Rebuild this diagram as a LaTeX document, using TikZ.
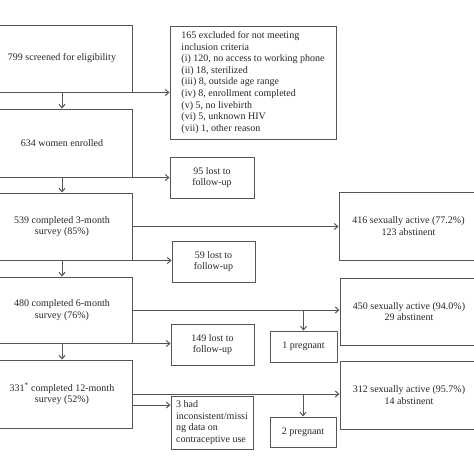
\documentclass[tikz,border=0pt]{standalone}
\usepackage{fontspec}
\setmainfont{Liberation Serif}
\usetikzlibrary{arrows.meta}
\definecolor{linegray}{HTML}{555555}
\definecolor{textgray}{HTML}{262626}

\begin{document}
\begin{tikzpicture}[x=1pt, y=-1pt, >={Straight Barb[length=3.5pt,width=6pt]}]
        \tikzstyle{every node}=[font=\fontsize{10}{11.6}\selectfont, text=textgray]
        \tikzstyle{box}=[draw=linegray, line width=1pt, inner sep=0pt, align=center]
        \tikzstyle{flow}=[draw=linegray, line width=1pt]
        \useasboundingbox (0, 0) rectangle (474, 474);

        \node[box, minimum width=140, minimum height=67] (scrn) at (62, 58.5) {799 screened for eligibility};
        \node[box, minimum width=140, minimum height=68] (enrl) at (62, 143) {634 women enrolled};
        \node[box, minimum width=140, minimum height=67] (mthree) at (62, 226.5) {539 completed 3-month\\survey (85\%)};
        \node[box, minimum width=140, minimum height=66] (msix) at (62, 310) {480 completed 6-month\\survey (76\%)};
        \node[box, minimum width=140, minimum height=68] (mtwelve) at (62, 394) {331\textsuperscript{*} completed 12-month\\survey (52\%)};

        \node[box, minimum width=166, minimum height=113, align=left] (excl) at (253, 82.5)
            {165 excluded for not meeting\\inclusion criteria\\(i) 120, no access to working phone\\(ii) 18, sterilized\\(iii) 8, outside age range\\(iv) 8, enrollment completed\\(v) 5, no livebirth\\(vi) 5, unknown HIV\\(vii) 1, other reason};
        \node[box, minimum width=84, minimum height=41] (lostzero) at (212, 177.5) {95 lost to\\follow-up};
        \node[box, minimum width=83, minimum height=41] (lostthree) at (213.5, 261.5) {59 lost to\\follow-up};
        \node[box, minimum width=83, minimum height=41] (lostsix) at (212.5, 344.5) {149 lost to\\follow-up};
        \node[box, minimum width=82, minimum height=53, align=left] (miss) at (212, 422.5)
            {3 had\\inconsistent/missi\\ng data on\\contraceptive use};

        \node[box, minimum width=139, minimum height=68] (actthree) at (408.5, 226) {416 sexually active (77.2\%)\\123 abstinent};
        \node[box, minimum width=138, minimum height=67] (actsix) at (409, 311.5) {450 sexually active (94.0\%)\\29 abstinent};
        \node[box, minimum width=138, minimum height=68] (acttwelve) at (409, 395) {312 sexually active (95.7\%)\\14 abstinent};
        \node[box, minimum width=67, minimum height=31] (pregsix) at (303.5, 346.5) {1 pregnant};
        \node[box, minimum width=66, minimum height=30] (pregtwelve) at (303, 432) {2 pregnant};

        \draw[flow, ->] (scrn.south) -- (enrl.north);
        \draw[flow, ->] (enrl.south) -- (mthree.north);
        \draw[flow, ->] (mthree.south) -- (msix.north);
        \draw[flow, ->] (msix.south) -- (mtwelve.north);

        \draw[flow, ->] (scrn.south west) -- (scrn.south west -| excl.west);
        \draw[flow, ->] (enrl.south west) -- (enrl.south west -| lostzero.west);
        \draw[flow, ->] (mthree.south west) -- (mthree.south west -| lostthree.west);
        \draw[flow, ->] (msix.south west) -- (msix.south west -| lostsix.west);
        \draw[flow, ->] ([yshift=-11pt]mtwelve.east) -- ([yshift=-11pt]mtwelve.east -| miss.west);

        \draw[flow, ->] (mthree.east) -- (mthree.east -| actthree.west);
        \draw[flow, ->] (msix.east) -- (msix.east -| actsix.west);
        \draw[flow, ->] (mtwelve.east) -- (mtwelve.east -| acttwelve.west);
        \draw[flow, ->] (pregsix.north |- msix.east) -- (pregsix.north);
        \draw[flow, ->] (pregtwelve.north |- mtwelve.east) -- (pregtwelve.north);
\end{tikzpicture}
\end{document}
